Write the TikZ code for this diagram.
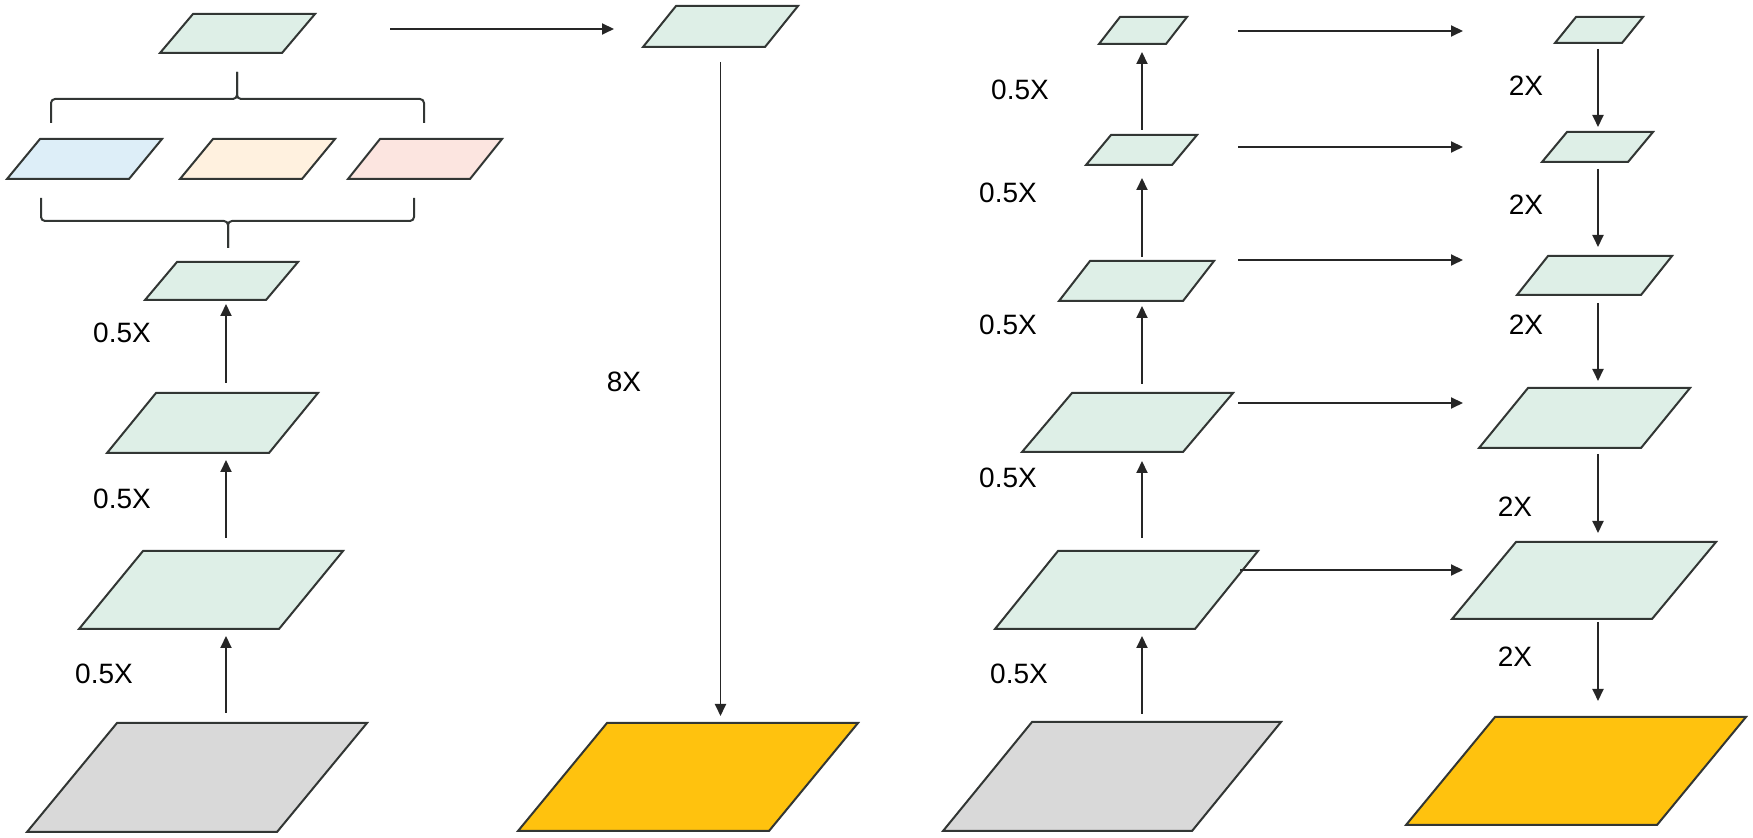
\documentclass[tikz,border=0pt]{standalone}
\usepackage{fontspec}
\setmainfont{Liberation Sans}
\usetikzlibrary{arrows.meta,calc}
\definecolor{lgreen}{RGB}{222,239,231}
\definecolor{lblue}{RGB}{221,238,248}
\definecolor{lorange}{RGB}{255,241,223}
\definecolor{lpink}{RGB}{252,229,224}
\definecolor{lgray}{RGB}{217,217,217}
\definecolor{gold}{RGB}{255,194,14}
\definecolor{edge}{RGB}{50,54,52}
\newcommand\layerbox[7]{%
  \node[inner sep=0pt, outer sep=0pt, minimum width={(#4+#6)*0.5pt}, minimum height={#5*0.5pt}, anchor=north west] (#1) at (#2,#3) {};
  \draw[layer, fill=#7] ([xshift={#6*0.5pt}]#1.north west) -- (#1.north east) -- ([xshift={-#6*0.5pt}]#1.south east) -- (#1.south west) -- cycle;
}
\tikzset{
  layer/.style={draw=edge, line width=1pt, line join=miter},
  arr/.style={draw=black!85, line width=0.95pt, -{Triangle[length=6pt,width=5.5pt]}},
  brace/.style={draw=edge, line width=1pt, rounded corners=2pt},
  lbl/.style={inner sep=0pt, font=\fontsize{14}{16}\selectfont, text=black}
}
\begin{document}
\begin{tikzpicture}[x=0.5pt,y=-0.5pt]
\useasboundingbox (0,0) rectangle (1753,838);
% left column
\layerbox{L0}{160}{14}{122}{39}{33}{lgreen}
\layerbox{LB}{7}{139}{122}{40}{33}{lblue}
\layerbox{LO}{180}{139}{122}{40}{33}{lorange}
\layerbox{LP}{348}{139}{122}{40}{32}{lpink}
\layerbox{L1}{145}{262}{121}{38}{32}{lgreen}
\layerbox{L2}{107}{393}{162}{60}{49}{lgreen}
\layerbox{L3}{79}{551}{200}{78}{64}{lgreen}
\layerbox{LG}{27}{723}{250}{109}{90}{lgray}
% middle column
\layerbox{M1}{643}{6}{122}{41}{33}{lgreen}
\layerbox{MY}{518}{723}{251}{108}{89}{gold}
% right section, encoder
\layerbox{R1}{1099}{17}{67}{27}{21}{lgreen}
\layerbox{R2}{1086}{135}{86}{30}{25}{lgreen}
\layerbox{R3}{1059}{261}{124}{40}{31}{lgreen}
\layerbox{R4}{1022}{393}{161}{59}{50}{lgreen}
\layerbox{R5}{995}{551}{200}{78}{63}{lgreen}
\layerbox{RG}{943}{722}{249}{109}{89}{lgray}
% right section, decoder
\layerbox{S1}{1555}{17}{67}{26}{21}{lgreen}
\layerbox{S2}{1542}{132}{86}{30}{25}{lgreen}
\layerbox{S3}{1517}{256}{124}{39}{31}{lgreen}
\layerbox{S4}{1479}{388}{162}{60}{49}{lgreen}
\layerbox{S5}{1452}{542}{200}{77}{64}{lgreen}
\layerbox{SY}{1406}{717}{251}{108}{89}{gold}
% braces
\draw[brace] (51,123) |- (237,99) -- (237,72);
\draw[brace] (424,123) |- (237,99) -- (237,72);
\draw[brace] (41,198) |- (228,221) -- (228,248);
\draw[brace] (414,198) |- (228,221) -- (228,248);
% column coordinates
\coordinate (cl) at (226,0);
\coordinate (cr) at (1142,0);
\coordinate (cs) at (1598,0);
% left arrows
\draw[arr] ($(LG.north -| cl)+(0,-10)$) -- ($(L3.south -| cl)+(0,7)$);
\draw[arr] ($(L3.north -| cl)+(0,-13)$) -- ($(L2.south -| cl)+(0,7)$);
\draw[arr] ($(L2.north -| cl)+(0,-10)$) -- ($(L1.south -| cl)+(0,4)$);
\draw[arr] ($(L0.east)+(75,-4.5)$) -- ($(M1.west)+(-29,2.5)$);
\draw[arr] ($(M1.south)+(0,15)$) -- ($(MY.north -| M1.south)+(0,-7)$);
% right encoder arrows
\draw[arr] ($(RG.north -| cr)+(0,-8)$) -- ($(R5.south -| cr)+(0,7)$);
\draw[arr] ($(R5.north -| cr)+(0,-13)$) -- ($(R4.south -| cr)+(0,9)$);
\draw[arr] ($(R4.north -| cr)+(0,-9)$) -- ($(R3.south -| cr)+(0,5)$);
\draw[arr] ($(R3.north -| cr)+(0,-4)$) -- ($(R2.south -| cr)+(0,13)$);
\draw[arr] ($(R2.north -| cr)+(0,-5)$) -- ($(R1.south -| cr)+(0,8)$);
% decoder arrows
\draw[arr] ($(S1.south -| cs)+(0,6)$) -- ($(S2.north -| cs)+(0,-5)$);
\draw[arr] ($(S2.south -| cs)+(0,7)$) -- ($(S3.north -| cs)+(0,-9)$);
\draw[arr] ($(S3.south -| cs)+(0,8)$) -- ($(S4.north -| cs)+(0,-7)$);
\draw[arr] ($(S4.south -| cs)+(0,6)$) -- ($(S5.north -| cs)+(0,-9)$);
\draw[arr] ($(S5.south -| cs)+(0,3)$) -- ($(SY.north -| cs)+(0,-16)$);
% lateral arrows
\draw[arr] ($(R1.east)+(51,0.5)$) -- ($(S1.west)+(-92,1)$);
\draw[arr] ($(R2.east)+(41,-3)$) -- ($(S2.west)+(-79,0)$);
\draw[arr] ($(R3.east)+(24,-21)$) -- ($(S3.west)+(-54,-15.5)$);
\draw[arr] ($(R4.east)+(5,-19.5)$) -- ($(S4.west)+(-16,-15)$);
\draw[arr] ($(R5.east)+(-18,-20)$) -- ($(S5.west)+(11,-10.5)$);
% labels
\node[lbl] (ta) at (122,333) {0.5X};
\node[lbl] (tb) at (122,499) {0.5X};
\node[lbl] (tc) at (104,674) {0.5X};
\node[lbl] (td) at (624,382) {8X};
\node[lbl] (te) at (1020,90) {0.5X};
\node[lbl] (tf) at (1008,193) {0.5X};
\node[lbl] (tg) at (1008,325) {0.5X};
\node[lbl] (th) at (1008,478) {0.5X};
\node[lbl] (ti) at (1019,674) {0.5X};
\node[lbl] (tj) at (1526,86) {2X};
\node[lbl] (tk) at (1526,205) {2X};
\node[lbl] (tl) at (1526,325) {2X};
\node[lbl] (tm) at (1515,507) {2X};
\node[lbl] (tn) at (1515,657) {2X};
\end{tikzpicture}
\end{document}
